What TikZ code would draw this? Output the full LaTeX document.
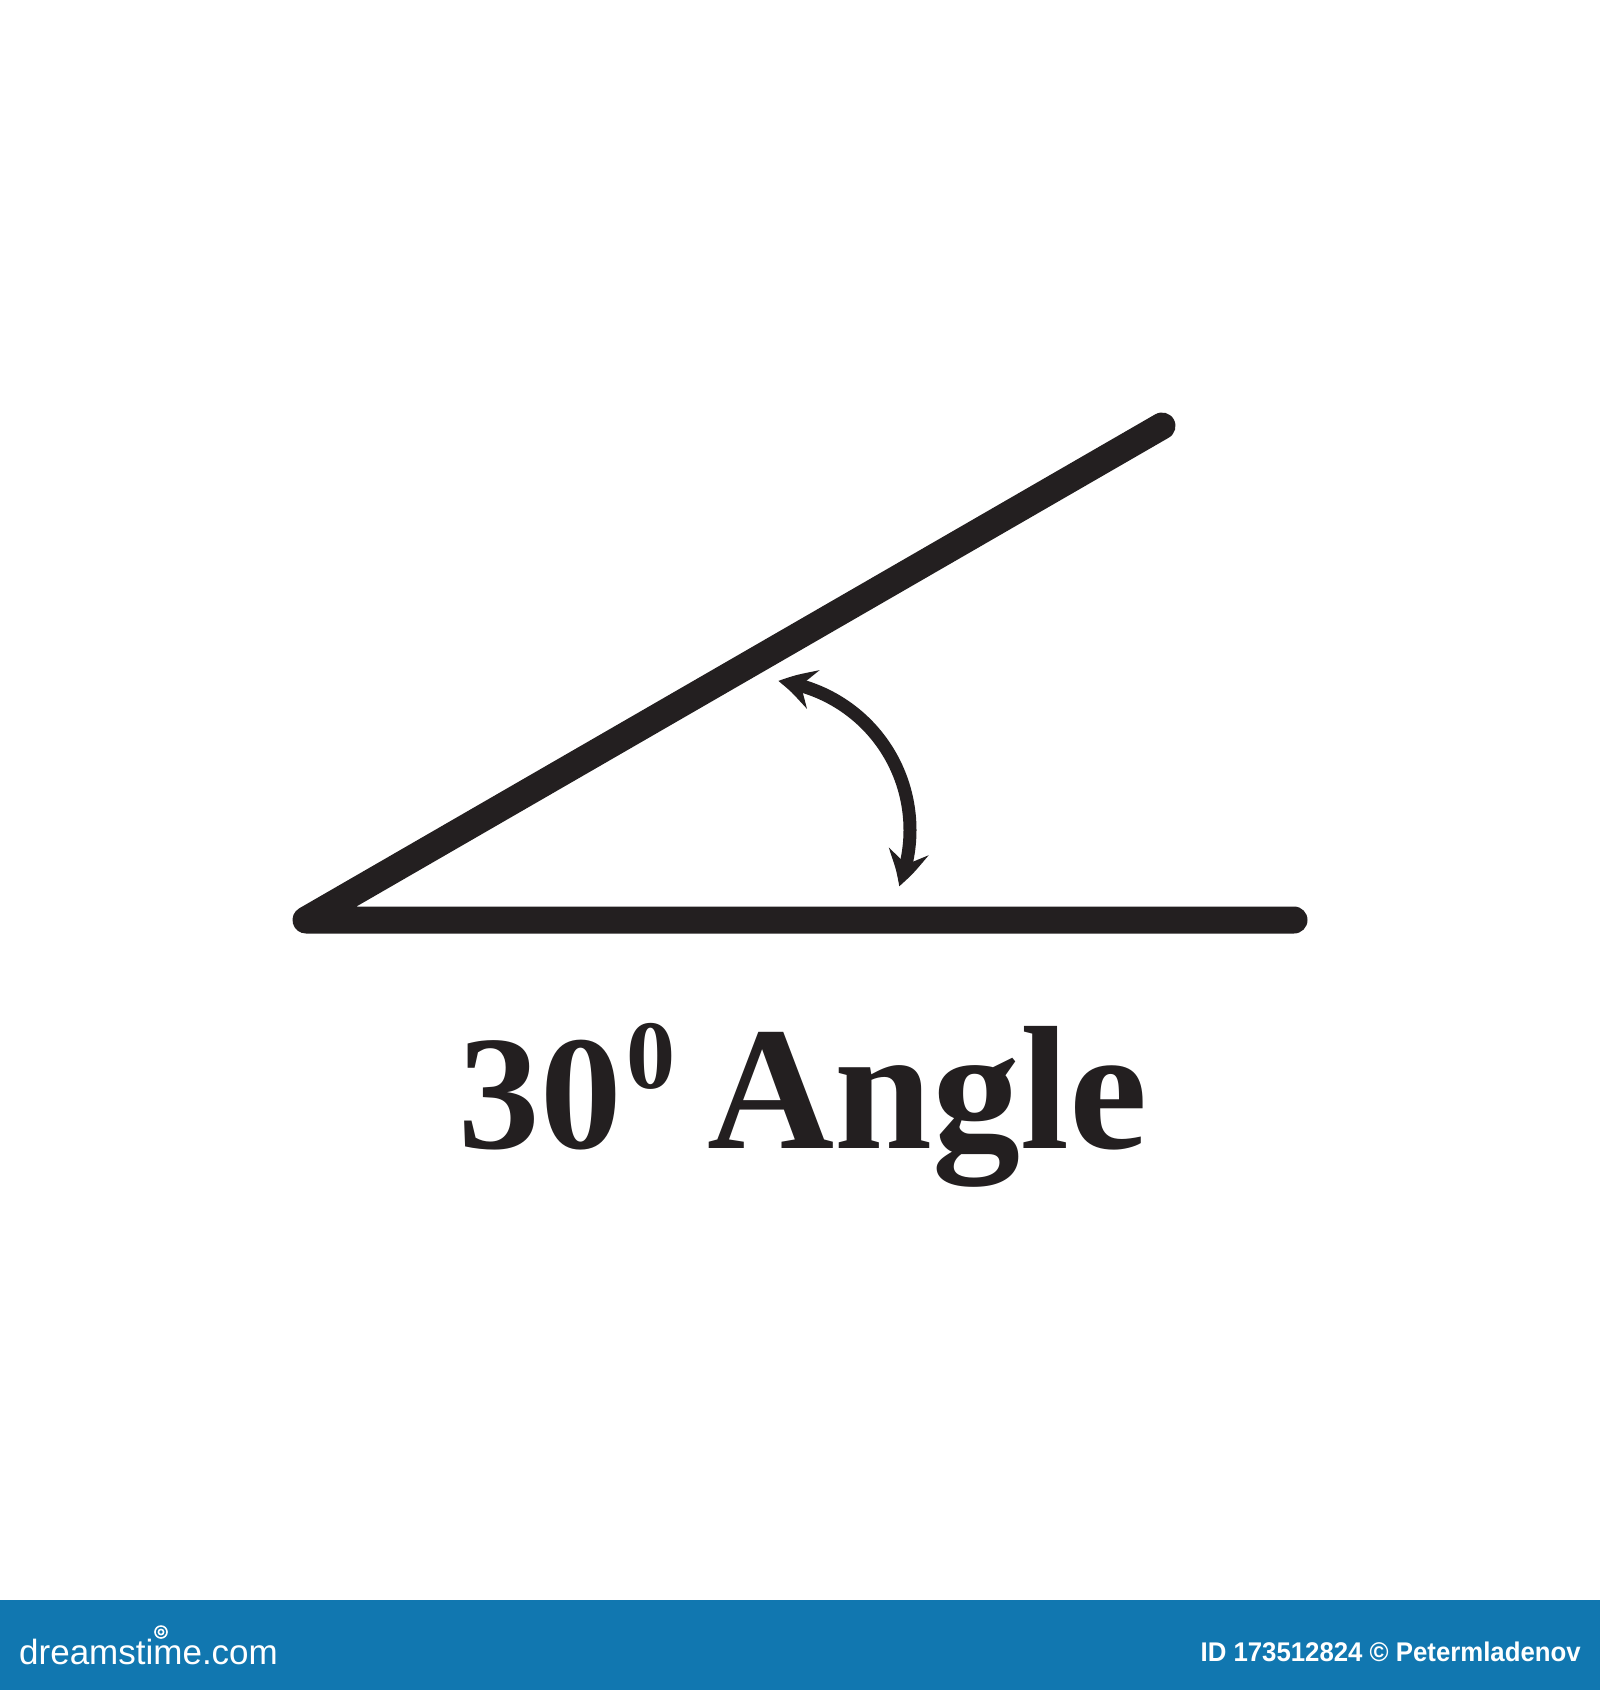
\documentclass[tikz,border=0pt]{standalone}
\usepackage{fontspec}
\setmainfont{Liberation Serif}
\newfontfamily\barfont{Liberation Sans}
\usetikzlibrary{arrows.meta,bending}
\definecolor{ink}{RGB}{35,31,32}
\definecolor{barblue}{RGB}{17,119,176}
\tikzset{
  ray/.style={ink, line width=27pt, line cap=round, line join=round},
  arctip/.tip={Stealth[length=36pt,width=40pt,inset=13pt,bend]},
  arcarrow/.style={ink, line width=13pt, arctip-arctip},
  title/.style={ink, anchor=base, inner sep=0pt, font=\fontsize{176}{176}\selectfont\bfseries},
  bartext/.style={white, inner sep=0pt},
}
\begin{document}
\begin{tikzpicture}[x=1pt,y=-1pt]
\useasboundingbox (0,0) rectangle (1600,1690);
\fill[white] (0,0) rectangle (1600,1690);
\fill[barblue] (0,1600) rectangle (1600,1690);
% angle
\coordinate (V) at (306,920);
\coordinate (R) at (1294,920);
\coordinate (U) at (1162,426);
\draw[ray] (U) -- (V) -- (R);
% arc arrow
\coordinate (C) at (760,830);
\draw[arcarrow] ([shift={(83:150pt)}]C) arc[start angle=83, end angle=-22, radius=150pt];
% label
\node[title] (label) at (803,1148) {{\fontsize{163}{163}\selectfont 30}\hspace{5pt}\raisebox{60pt}{\fontsize{98}{98}\selectfont 0}\hspace{32pt}Angle};
% bottom bar
\node[bartext, anchor=base west, font=\barfont\fontsize{35}{35}\selectfont] (logo) at (19,1664) {dreamstime.com};
\draw[white, line width=1.6pt] (161,1632) circle[radius=6pt] (161,1632) circle[radius=2.6pt];
\node[bartext, anchor=base east, font=\barfont\bfseries\fontsize{27}{27}\selectfont, xscale=0.955] (credit) at (1581,1661) {ID 173512824 © Petermladenov};
\end{tikzpicture}
\end{document}
